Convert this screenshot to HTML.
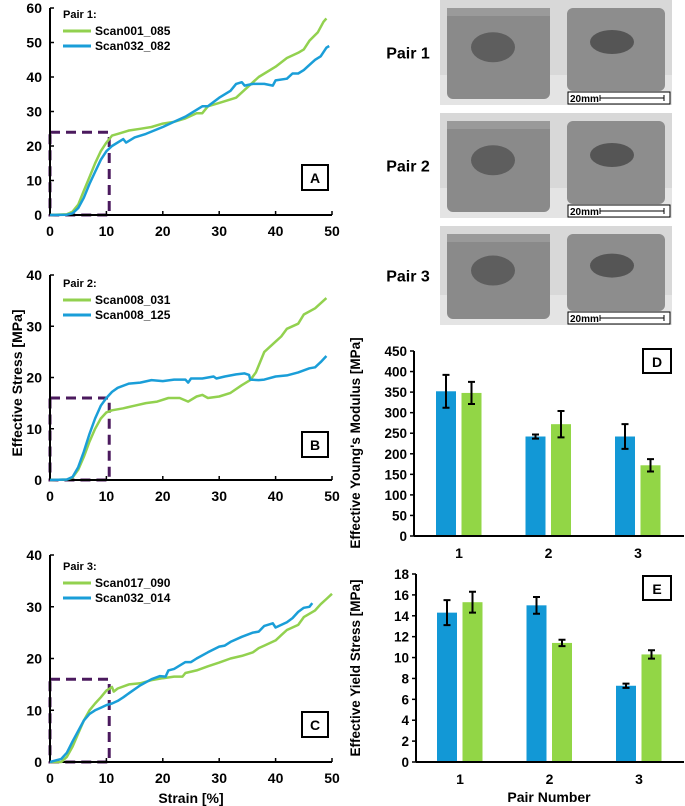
<!DOCTYPE html>
<html><head><meta charset="utf-8"><style>
body{margin:0;background:#fff}
svg{display:block;font-family:"Liberation Sans",Arial,sans-serif;font-weight:bold}
</style></head><body>
<svg id="fig" width="685" height="806" viewBox="0 0 685 806" xmlns="http://www.w3.org/2000/svg">
<g id="photos"></g>
<g id="left"></g>
<g id="right"></g>
<text x="22" y="383" font-size="14" text-anchor="middle" transform="rotate(-90 22 383)">Effective Stress [MPa]</text>
<text x="191" y="803" font-size="14" text-anchor="middle">Strain [%]</text>
<text x="360" y="443" font-size="13.5" text-anchor="middle" transform="rotate(-90 360 443)">Effective Young's Modulus [MPa]</text>
<text x="360" y="668" font-size="13.5" text-anchor="middle" transform="rotate(-90 360 668)">Effective Yield Stress [MPa]</text>
<text x="549" y="802" font-size="14" text-anchor="middle">Pair Number</text>
</svg>
<script>
const GREEN='#92d14f', BLUE='#1a9ed8', NS='http://www.w3.org/2000/svg';
// Panel A data [strain, stress]
const aGreen=[[0,0],[3,0.2],[4,1],[5,3],[6,7],[7,11],[8,15],[9,18.5],[10,21],[11,23],[12,23.5],[14,24.5],[16,25],[18,25.5],[20,26.5],[22,27],[24,28],[26,29.5],[27,29.5],[28,31.5],[30,32.5],[32,33.5],[33,34],[35,37],[37,40],[40,43],[42,45.5],[44,47],[45,48],[46,50.5],[47.5,53],[48.5,56],[49,57]];
const aBlue=[[0,0],[3,0.1],[4,0.5],[5,2],[6,5],[7,9],[8,12.5],[9,16],[10,18.5],[11,20],[13,22],[13.5,21],[15,22.5],[17,23.5],[20,25.5],[22,27],[24,28.5],[26,30.5],[27,31.5],[28,31.5],[30,34],[32,36],[33,38],[34,38.5],[34.5,37.5],[36,38],[38,38],[39.5,37.5],[40,39],[42,39.5],[43,41],[44,41],[45,42],[46,43.5],[47,45],[48,46],[49,48.5],[49.5,49]];
// Panel B
const bGreen=[[0,0],[3,0.1],[4,0.5],[5,2],[6,4.5],[7,7.5],[8,10],[9,12],[10,13.2],[11,13.6],[13,14],[15,14.5],[17,15],[19,15.3],[21,16],[23,16],[24.5,15.3],[26,16.3],[27,16.6],[28,16],[30,16.3],[32,17],[34,18.5],[35.5,19.5],[36.5,21],[38,25],[40,27],[41,28],[42,29.5],[44,30.5],[45,32.3],[47,33.5],[49,35.5]];
const bBlue=[[0,0],[3,0.1],[4,0.6],[5,2.5],[6,5.5],[7,9],[8,12],[9,14.5],[10,16],[11,17.2],[12,18],[14,18.8],[16,19],[18,19.5],[20,19.3],[22,19.6],[24,19.6],[24.5,19],[25,19.8],[27,19.8],[29,20.2],[29.5,19.8],[31,20.2],[33,20.6],[34.5,20.8],[35.3,20.5],[35.5,19.6],[37,19.5],[38,19.6],[40,20.2],[42,20.4],[44,21],[46,21.8],[47,22],[48,23],[49,24.2]];
// Panel C
const cGreen=[[0,0],[2,0],[3,1],[4,3],[5,5.5],[6,8],[7,10],[8,11.3],[9,12.5],[10,13.8],[11,14.5],[11.3,13.6],[12,14.2],[14,15],[16,15.2],[18,15.8],[20,16.2],[22,16.5],[23.5,16.5],[24,17.2],[26,17.7],[28,18.5],[30,19.2],[32,20],[34,20.5],[36,21.2],[37,22],[38,22.5],[40,23.5],[41,24.5],[42,25.5],[44,26.5],[45,28],[47,29.3],[48,30.5],[49,31.5],[50,32.5]];
const cBlue=[[0,0],[1,0.3],[2,0.6],[3,1.8],[4,4],[5,6],[6,8],[7,9.3],[8,10],[9,10.5],[10,11],[11,11.3],[12,11.8],[13,12.5],[14,13.3],[16,14.8],[18,16],[19.5,16.6],[20.5,16.5],[21,17.7],[22,18],[24,19.3],[25,19.3],[26,20],[28,21.2],[30,22.3],[31,22.5],[32,23.2],[34,24.2],[36,25],[37,25.2],[38,26.3],[39.5,26.8],[40,26],[42,27],[43,27.8],[44,29],[45,29.8],[46,30],[46.5,30.7]];
const strainTicks=[0,10,20,30,40,50];
const aTicks=[0,10,20,30,40,50,60], bTicks=[0,10,20,30,40], cTicks=[0,10,20,30,40];
const pairs=['1','2','3'];
const modBlue=[352,242,242], modGreen=[348,272,172], modBlueErr=[40,5,30], modGreenErr=[27,32,15];
const ysBlue=[14.3,15.0,7.3], ysGreen=[15.3,11.4,10.3], ysBlueErr=[1.2,0.8,0.2], ysGreenErr=[1.0,0.3,0.4];
const modTicks=[0,50,100,150,200,250,300,350,400,450], ysTicks=[0,2,4,6,8,10,12,14,16,18];

function el(parent,tag,attrs,text){const e=document.createElementNS(NS,tag);for(const k in attrs)e.setAttribute(k,attrs[k]);if(text!=null)e.textContent=text;parent.appendChild(e);return e;}

const left=document.getElementById('left');
function lineChart(cfg){
  const g=el(left,'g',{});
  
  
  const x0=50,x1=332;
  const sx=v=>x0+(v/50)*(x1-x0);
  const sy=v=>cfg.yb-(v/cfg.ymax)*(cfg.yb-cfg.yt);
  const dbox=el(g,'rect',{x:sx(0),y:sy(cfg.dash),width:sx(10.5)-sx(0),height:sy(0)-sy(cfg.dash),fill:'none',stroke:'#4b1a5e','stroke-width':3,'stroke-dasharray':'10,6'});
  
  
  const ya=el(g,'line',{x1:x0,y1:cfg.yt,x2:x0,y2:cfg.yb,stroke:'#000','stroke-width':2});
  
  
  const xa=el(g,'line',{x1:x0,y1:cfg.yb,x2:x1,y2:cfg.yb,stroke:'#000','stroke-width':2});
  
  
  cfg.ticks.forEach(t=>{
    el(g,'line',{x1:x0,y1:sy(t),x2:x0+4,y2:sy(t),stroke:'#000','stroke-width':1.5});
    const tl=el(g,'text',{x:x0-8,y:sy(t)+5,'font-size':14,'text-anchor':'end'},t);
    
    
  });
  strainTicks.forEach(t=>{
    el(g,'line',{x1:sx(t),y1:cfg.yb,x2:sx(t),y2:cfg.yb-4,stroke:'#000','stroke-width':1.5});
    const tl=el(g,'text',{x:sx(t),y:cfg.yb+21,'font-size':14,'text-anchor':'middle'},t);
    
    
  });
  [[cfg.green,GREEN,'green'],[cfg.blue,BLUE,'blue']].forEach(([d,c,n])=>{
    const p=el(g,'polyline',{points:d.map(q=>sx(q[0]).toFixed(1)+','+sy(q[1]).toFixed(1)).join(' '),fill:'none',stroke:c,'stroke-width':2.5,'stroke-linejoin':'round'});
    
    
  });
  const lg=el(g,'g',{});
  
  
  el(lg,'text',{x:63,y:cfg.ly+4,'font-size':11},cfg.title);
  el(lg,'line',{x1:63,y1:cfg.ly+17,x2:91,y2:cfg.ly+17,stroke:GREEN,'stroke-width':3});
  el(lg,'text',{x:95,y:cfg.ly+21,'font-size':12},cfg.gName);
  el(lg,'line',{x1:63,y1:cfg.ly+32,x2:91,y2:cfg.ly+32,stroke:BLUE,'stroke-width':3});
  el(lg,'text',{x:95,y:cfg.ly+36,'font-size':12},cfg.bName);
  const bx=el(g,'rect',{x:302,y:cfg.box,width:26,height:25,fill:'#fff',stroke:'#000','stroke-width':2});
  
  
  el(g,'text',{x:315,y:cfg.box+18,'font-size':14,'text-anchor':'middle'},cfg.id);
}
lineChart({id:'A',yt:8,yb:215,ymax:60,ticks:aTicks,green:aGreen,blue:aBlue,dash:24,ly:14,title:'Pair 1:',gName:'Scan001_085',bName:'Scan032_082',box:165});
lineChart({id:'B',yt:275,yb:480,ymax:40,ticks:bTicks,green:bGreen,blue:bBlue,dash:16,ly:283,title:'Pair 2:',gName:'Scan008_031',bName:'Scan008_125',box:432});
lineChart({id:'C',yt:555,yb:762,ymax:40,ticks:cTicks,green:cGreen,blue:cBlue,dash:16,ly:566,title:'Pair 3:',gName:'Scan017_090',bName:'Scan032_014',box:712});

const right=document.getElementById('right');
function barChart(cfg){
  const g=el(right,'g',{});
  
  
  const x0=cfg.x0,x1=684;
  const sy=v=>cfg.yb-(v/cfg.ymax)*(cfg.yb-cfg.yt);
  const cx=i=>cfg.c0+i*89.5;
  cfg.ticks.forEach(t=>{
    el(g,'line',{x1:x0-4,y1:sy(t),x2:x0,y2:sy(t),stroke:'#000','stroke-width':1.5});
    const tl=el(g,'text',{x:x0-7,y:sy(t)+5,'font-size':13.5,'text-anchor':'end'},t);
    
    
  });
  pairs.forEach((p,i)=>{
    [[cfg.blue,cfg.blueErr,BLUE,-13,'blue'],[cfg.green,cfg.greenErr,GREEN,12.5,'green']].forEach(([v,e,c,off,n])=>{
      const bx=cx(i)+off;
      const r=el(g,'rect',{x:bx-10,y:sy(v[i]),width:20,height:sy(0)-sy(v[i]),fill:n==='blue'?'#1298d6':'#92d646'});
      
      
      const eb=el(g,'path',{d:`M${bx},${sy(v[i]+e[i])}V${sy(v[i]-e[i])}M${bx-3.5},${sy(v[i]+e[i])}h7M${bx-3.5},${sy(v[i]-e[i])}h7`,stroke:'#000','stroke-width':2,fill:'none'});
      
      
    });
    const tl=el(g,'text',{x:cx(i),y:cfg.yb+22,'font-size':14,'text-anchor':'middle'},p);
    
    
  });
  const ya=el(g,'line',{x1:x0,y1:cfg.yt,x2:x0,y2:cfg.yb,stroke:'#000','stroke-width':2});
  
  
  const xa=el(g,'line',{x1:x0,y1:cfg.yb,x2:x1,y2:cfg.yb,stroke:'#000','stroke-width':2});
  
  
  const bx=el(g,'rect',{x:643,y:cfg.box,width:28,height:24,fill:'#fff',stroke:'#000','stroke-width':2});
  
  
  el(g,'text',{x:657,y:cfg.box+18,'font-size':14,'text-anchor':'middle'},cfg.id);
}
barChart({id:'D',x0:414,yt:351,yb:536,ymax:450,ticks:modTicks,blue:modBlue,green:modGreen,blueErr:modBlueErr,greenErr:modGreenErr,c0:459,box:349});
barChart({id:'E',x0:416,yt:574,yb:762,ymax:18,ticks:ysTicks,blue:ysBlue,green:ysGreen,blueErr:ysBlueErr,greenErr:ysGreenErr,c0:460,box:576});

// photos
const ph=document.getElementById('photos');
[[0,105,'Pair 1'],[113,218,'Pair 2'],[226,325,'Pair 3']].forEach(([t,b,lab],k)=>{
  const g=el(ph,'g',{});
  
  
  el(g,'rect',{x:440,y:t,width:232,height:b-t,fill:'#d8d8d8'});
  el(g,'rect',{x:440,y:b-30,width:232,height:30,fill:'#e4e4e4'});
  const h=b-t;
  el(g,'rect',{x:447,y:t+8,width:103,height:h-14,rx:6,fill:'#8a8a8a'});
  el(g,'rect',{x:567,y:t+8,width:98,height:h-22,rx:6,fill:'#8d8d8d'});
  el(g,'ellipse',{cx:493,cy:t+h*0.45,rx:22,ry:15,fill:'#5e5e5e'});
  el(g,'ellipse',{cx:612,cy:t+h*0.4,rx:22,ry:12,fill:'#555'});
  el(g,'rect',{x:447,y:t+8,width:103,height:8,fill:'#9a9a9a'});
  const sb=el(g,'rect',{x:568,y:b-13,width:102,height:12,fill:'#fff',stroke:'#000','stroke-width':1});
  
  
  el(g,'text',{x:570,y:b-3,'font-size':10},'20mm');
  el(g,'path',{d:`M600,${b-7}H664M600,${b-10}V${b-4}M664,${b-10}V${b-4}`,stroke:'#000','stroke-width':1});
  const tl=el(ph,'text',{x:408,y:t+h/2+6,'font-size':16,'text-anchor':'middle'},lab);
  
  
});
</script>
</body></html>
